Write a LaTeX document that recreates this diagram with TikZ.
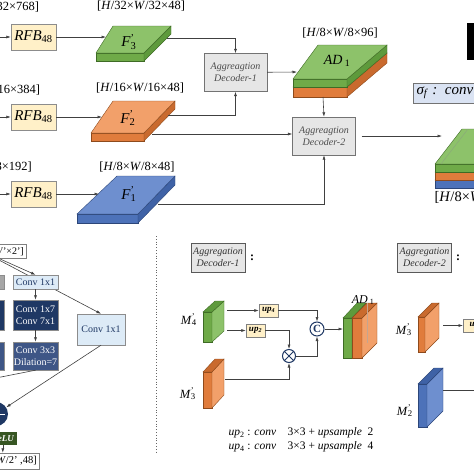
\documentclass[tikz,border=0pt]{standalone}
\usepackage{fontspec}
\setmainfont{Liberation Serif}
\usetikzlibrary{arrows.meta,backgrounds}

\definecolor{gT}{HTML}{8DC26A}
\definecolor{gF}{HTML}{6FAA48}
\definecolor{gS}{HTML}{5E9A3C}
\definecolor{gD}{HTML}{3E6B25}
\definecolor{oT}{HTML}{F2A06A}
\definecolor{oF}{HTML}{E07C3C}
\definecolor{oS}{HTML}{C96A2E}
\definecolor{oD}{HTML}{8E4A1C}
\definecolor{bT}{HTML}{6E8FCF}
\definecolor{bF}{HTML}{4D72B9}
\definecolor{bS}{HTML}{3F62A6}
\definecolor{bD}{HTML}{2C4679}
\definecolor{rfbC}{HTML}{FFF0C8}
\definecolor{decC}{HTML}{E6E6E6}
\definecolor{lbC}{HTML}{DDEBF7}
\definecolor{navyC}{HTML}{1F3864}
\definecolor{slateC}{HTML}{3E5686}
\definecolor{reluC}{HTML}{375623}
\definecolor{sigC}{HTML}{DAE3F3}

% flat slab: x y width thick dx-left dx-right depth colour
\newcommand\slab[8]{%
  \filldraw[fill=#8F,draw=#8D] (#1,#2) rectangle (#1+#3,#2+#4);
  \filldraw[fill=#8S,draw=#8D] (#1+#3,#2) -- (#1+#3+#6,#2-#7) -- (#1+#3+#6,#2-#7+#4) -- (#1+#3,#2+#4) -- cycle;
  \filldraw[fill=#8T,draw=#8D] (#1,#2) -- (#1+#3,#2) -- (#1+#3+#6,#2-#7) -- (#1+#5,#2-#7) -- cycle;
}
% upright plate: x y width height dx dy colour
\newcommand\plate[7]{%
  \filldraw[fill=#7F,draw=#7D] (#1,#2) rectangle (#1+#3,#2+#4);
  \filldraw[fill=#7T,draw=#7D] (#1+#3,#2) -- (#1+#3+#5,#2-#6) -- (#1+#3+#5,#2-#6+#4) -- (#1+#3,#2+#4) -- cycle;
  \filldraw[fill=#7S,draw=#7D] (#1,#2) -- (#1+#3,#2) -- (#1+#3+#5,#2-#6) -- (#1+#5,#2-#6) -- cycle;
}
\newcommand\prm[2]{\textit{#1}\rlap{\textsubscript{#2}}\textsuperscript{'}}

\begin{document}
\begin{tikzpicture}[x=1pt,y=-1pt,>={Latex[length=4.5pt,width=3pt]},
  line/.style={draw=black!75,line width=.6pt},
  dim/.style={font=\fontsize{12.5}{14}\selectfont},
  flab/.style={font=\fontsize{15}{15}\selectfont},
  rfb/.style={draw=black!45,fill=rfbC,minimum width=45pt,minimum height=26pt,inner sep=0pt,font=\fontsize{15}{15}\selectfont\itshape},
  dec/.style={draw=black!55,fill=decC,minimum width=63pt,minimum height=38pt,inner sep=0pt,align=center,text=black!70,font=\fontsize{10}{12}\selectfont\itshape},
  decs/.style={dec,minimum width=54pt,minimum height=29pt,draw=black!65,line width=.8pt,text=black!80},
  conv/.style={draw=black!45,minimum width=45pt,inner sep=0pt,align=center,font=\fontsize{10}{12}\selectfont},
  upbox/.style={draw=black!50,fill=rfbC,minimum width=19pt,minimum height=13pt,inner sep=0pt,font=\fontsize{9}{9}\selectfont\itshape\bfseries},
  op/.style={circle,draw=navyC,line width=1pt,minimum size=14pt,inner sep=0pt}]
\useasboundingbox (0,0) rectangle (474,474);
\clip (0,0) rectangle (474,474);

% encoder side
\node[rfb] (rfb1) at (33.5,37) {RFB\textsubscript{\upshape 48}};
\node[rfb] (rfb2) at (33.5,117) {RFB\textsubscript{\upshape 48}};
\node[rfb] (rfb3) at (33.5,194) {RFB\textsubscript{\upshape 48}};
\node[dim] (d1) at (-8,7) {[\textit{H}/32×\textit{W}/32×768]};
\node[dim] (d2) at (-7,90) {[\textit{H}/16×\textit{W}/16×384]};
\node[dim] (d3) at (-9,167) {[\textit{H}/8×\textit{W}/8×192]};
\foreach \i in {1,2,3} \draw[line,->] (rfb\i.west) ++(-20,0) coordinate (in\i) -- (rfb\i);

\slab{96}{53}{48}{8}{17}{27}{27}{g}
\slab{91}{133}{53}{8}{22}{31}{32}{o}
\slab{77}{214}{61}{9}{40}{37}{38}{b}
\node[flab] (f3) at (128,42) {\prm{F}{3}};
\node[flab] (f2) at (127,118) {\prm{F}{2}};
\node[flab] (f1) at (128,194) {\prm{F}{1}};
\node[dim] (d4) at (141,6) {[\textit{H}/32×\textit{W}/32×48]};
\node[dim] (d5) at (140,88) {[\textit{H}/16×\textit{W}/16×48]};
\node[dim] (d6) at (137,167) {[\textit{H}/8×\textit{W}/8×48]};
\coordinate (f3i) at (106,37); \coordinate (f3o) at (167,38);
\coordinate (f2i) at (102,117); \coordinate (f2a) at (168,115); \coordinate (f2b) at (152,134);
\coordinate (f1i) at (99,194); \coordinate (f1o) at (158,204);
\draw[line,->] (rfb1) -- (f3i);
\draw[line,->] (rfb2) -- (f2i);
\draw[line,->] (rfb3) -- (f1i);

% decoders
\node[dec] (dec1) at (235.5,72.5) {Aggreagtion\\Decoder-1};
\node[dec] (dec2) at (324,136) {Aggreagtion\\Decoder-2};
\draw[line,->] (f3o) -| (dec1.north);
\draw[line,->] (f2a) -| (dec1.south);
\draw[line,->] (f2b) -- (f2b -| dec2.west);
\draw[line,->] (f1o) -| (dec2.south);

\slab{293}{87}{54}{10}{25}{40}{34}{o}
\slab{293}{79}{54}{8}{25}{40}{34}{g}
\node[dim] (d7) at (340,33) {[\textit{H}/8×\textit{W}/8×96]};
\node[font=\fontsize{14}{14}\selectfont] (ad1) at (337,61) {\textit{AD}\,\textsubscript{1}};
\coordinate (adi) at (297,72); \coordinate (ado) at (323,97);
\draw[line,->] (dec1) -- (adi);
\draw[line,->] (ado) -- (dec2.north);

\slab{435}{180}{120}{8}{27}{40}{35}{b}
\slab{435}{172}{120}{8}{27}{40}{35}{o}
\slab{435}{164}{120}{8}{27}{40}{35}{g}
\draw[gD!60,line width=.4pt] (441,164) -- (468,129);
\coordinate (fin) at (442,136);
\draw[line,->] ([xshift=6pt]dec2.east) -- (fin);
\node[font=\fontsize{14.5}{15}\selectfont,anchor=west] (d8) at (431,197) {[\textit{H}/8×\textit{W}/8×1]};
\node[draw=black!55,fill=sigC,anchor=west,minimum height=20pt,text width=80pt,align=left,
  font=\fontsize{15}{15}\selectfont\itshape] (sig) at (413,93) {σ\textsubscript{f} : conv};
\fill (467,23) rectangle (480,60);

\draw[dotted,black!60,line width=.8pt] (156,236) -- (156,452);

% RFB detail
\node[draw=black!50,fill=white,anchor=east,minimum height=14pt,inner sep=2pt,font=\fontsize{10}{10}\selectfont] (rin) at (26,251.5) {[\textit{H}'×\textit{W}'×2']};
\coordinate (sp) at (-20,250);
\node[conv,fill=lbC,minimum height=14pt,text=navyC] (c1) at (35.5,282) {Conv 1x1};
\node[conv,fill=navyC,minimum height=30pt,text=white] (c2) at (35.5,315) {Conv 1x7\\Conv 7x1};
\node[conv,fill=slateC,minimum height=28pt,text=white] (c3) at (35.5,356) {Conv 3x3\\Dilation=7};
\node[conv,fill=black!35,minimum height=14pt,anchor=east] (c4) at (4,282) {};
\node[conv,fill=navyC,minimum height=30pt,anchor=east] (c5) at (4,315) {};
\node[conv,fill=slateC,minimum height=28pt,anchor=east] (c6) at (4,356) {};
\node[conv,fill=lbC,minimum width=48pt,minimum height=31pt,text=navyC] (big) at (101,329.5) {Conv 1x1};
\node[circle,fill=navyC,minimum size=24pt] (add) at (-4,414) {};
\draw[white,line width=1pt] ([xshift=3pt]add.west) -- ([xshift=-3pt]add.east);
\node[fill=reluC,anchor=east,minimum height=13pt,inner sep=3pt,text=white,font=\fontsize{9}{9}\selectfont\itshape\bfseries] (relu) at (17,438.5) {ReLU};
\node[draw=black!50,anchor=east,minimum height=16pt,inner sep=2pt,font=\fontsize{10.5}{10.5}\selectfont] (out) at (39,461) {[\textit{H}/2',\textit{W}/2' ,48]};
\coordinate (cat) at (-60,389);
\begin{scope}[on background layer]
\draw[line,->] (sp) -- (big.north);
\end{scope}
\draw[line,->] (sp) -- (c1.north);
\draw[line,->] (c1) -- (c2);
\draw[line,->] (c2) -- (c3);
\draw[line] (c3.south) -- (cat);
\draw[line,->] (big.south) -- (add);
\draw[line,->] (relu) -- (relu |- out.north);

% aggregation decoder-1
\node[decs] (dd1) at (218,257.5) {Aggregation\\Decoder-1};
\node[font=\fontsize{12}{12}\selectfont\bfseries] (cl1) at (252,258) {:};
\plate{203}{312}{9}{30}{12}{11}{g}
\plate{203}{372}{9}{36}{12}{13}{o}
\node[font=\fontsize{12.5}{12.5}\selectfont] (m4) at (188,320) {\prm{M}{4}};
\node[font=\fontsize{12.5}{12.5}\selectfont] (m3) at (187,394) {\prm{M}{3}};
\node[upbox] (up4) at (268.5,310.5) {up\textsubscript{4}};
\node[upbox] (up2) at (255.5,330.5) {up\textsubscript{2}};
\node[op,minimum size=13pt] (mul) at (289,356) {};
\draw[navyC,line width=.9pt] (mul.north west) -- (mul.south east) (mul.north east) -- (mul.south west);
\node[op,font=\fontsize{11}{11}\selectfont\bfseries,text=navyC] (cc) at (317,329) {C};
\coordinate (m4a) at (227,310.5); \coordinate (m4b) at (227,330.5); \coordinate (m3a) at (225,379);
\draw[line,->] (m4a) -- (up4);
\draw[line,->] (m4b) -- (up2);
\draw[line,->] (up4) -| (cc.north);
\draw[line,->] (up2) -| (mul.north);
\draw[line,->] (m3a) -| (mul.south);
\draw[line,->] (mul) -| (cc.south);
\plate{343}{318}{9}{40}{14}{15}{g}
\plate{352}{318}{10}{40}{15}{15}{o}
\draw[oD!50,line width=.4pt] (367,303) -- (367,343);
\coordinate (adx) at (343,329);
\draw[line,->] (cc) -- (adx);
\node[font=\fontsize{12}{12}\selectfont] (ad1s) at (363,300) {\textit{AD}\,\textsubscript{1}};
\node[anchor=west,font=\fontsize{11.5}{12}\selectfont] (eq2) at (225,433) {\textit{up}\textsubscript{2} : \textit{conv}\quad 3×3 + \textit{upsample}\enspace 2};
\node[anchor=west,font=\fontsize{11.5}{12}\selectfont] (eq4) at (225,447) {\textit{up}\textsubscript{4} : \textit{conv}\quad 3×3 + \textit{upsample}\enspace 4};

% aggregation decoder-2
\node[decs] (dd2) at (424.5,257.5) {Aggregation\\Decoder-2};
\node[font=\fontsize{12}{12}\selectfont\bfseries] (cl2) at (458,258) {:};
\plate{418}{317}{7}{35}{14}{14}{o}
\plate{418}{384}{9}{43}{16}{16}{b}
\node[font=\fontsize{12.5}{12.5}\selectfont] (m3b) at (403,330) {\prm{M}{3}};
\node[font=\fontsize{12.5}{12.5}\selectfont] (m2) at (404,411) {\prm{M}{2}};
\node[upbox,anchor=west,minimum width=26pt] (up2b) at (463,325.5) {up\textsubscript{2}};
\coordinate (m3c) at (443,325.5); \coordinate (m2a) at (443,390); \coordinate (m2o) at (480,390);
\draw[line,->] (m3c) -- (up2b);
\draw[line] (m2a) -- (m2o);
\end{tikzpicture}
\end{document}
